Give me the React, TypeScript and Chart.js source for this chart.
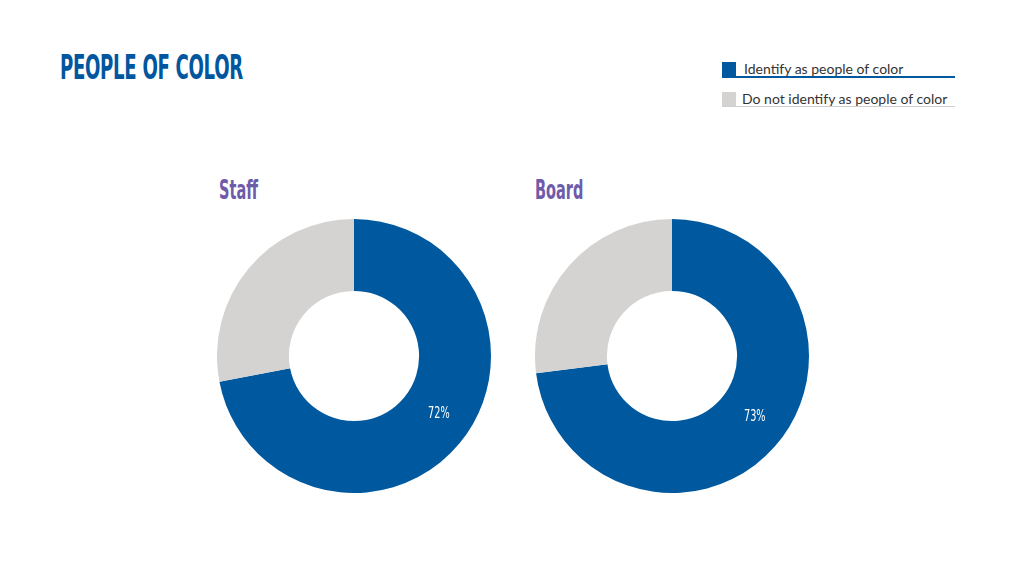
import React, { useEffect, useRef } from "react";
import { Chart, registerables } from "chart.js";

Chart.register(...registerables);

const categories = ["Identify as people of color", "Do not identify as people of color"];
const groups = ["Staff", "Board"];
const staffValues = [72, 28];
const boardValues = [73, 27];
const colors = ["#00599F", "#D4D3D2"];

const labelPlugin = {
  id: "sliceLabel",
  afterDatasetsDraw(chart: any) {
    const meta = chart.getDatasetMeta(0);
    const arc = meta.data[0];
    if (!arc) return;
    const val = chart.data.datasets[0].data[0];
    const { x, y } = arc.tooltipPosition();
    const ctx = chart.ctx;
    ctx.save();
    ctx.font = "15px 'Liberation Sans Narrow', 'DejaVu Sans Condensed', sans-serif";
    ctx.fillStyle = "#FFFFFF";
    ctx.textAlign = "center";
    ctx.textBaseline = "middle";
    ctx.translate(x + 7, y - 6);
    ctx.scale(0.72, 1);
    ctx.fillText(val + "%", 0, 0);
    ctx.restore();
  },
};

function Donut({ values, left }: { values: number[]; left: number }) {
  const ref = useRef<HTMLCanvasElement>(null);
  useEffect(() => {
    if (!ref.current) return;
    const chart = new Chart(ref.current, {
      type: "doughnut",
      data: {
        labels: categories,
        datasets: [{ data: values, backgroundColor: colors, borderWidth: 0 }],
      },
      options: {
        animation: false,
        responsive: false,
        cutout: "47.5%",
        layout: { padding: 0 },
        plugins: { legend: { display: false }, tooltip: { enabled: false } },
      },
      plugins: [labelPlugin],
    });
    return () => chart.destroy();
  }, []);
  return (
    <canvas
      ref={ref}
      width={274}
      height={274}
      style={{ position: "absolute", left, top: 219, width: 274, height: 274 }}
    />
  );
}

const condensed = "'Liberation Sans Narrow', 'DejaVu Sans Condensed', 'Roboto', sans-serif";

export default function App() {
  return (
    <div style={{ position: "absolute", left: 0, top: 0, width: 1024, height: 563, background: "#fff", overflow: "hidden" }}>
      <div
        style={{
          position: "absolute",
          left: 60,
          top: 50,
          fontFamily: condensed,
          fontWeight: 700,
          fontSize: 33,
          lineHeight: "36px",
          color: "#0057A0",
          transform: "scaleX(0.61)",
          transformOrigin: "0 0",
          whiteSpace: "nowrap",
          letterSpacing: "-0.5px",
        }}
      >
        PEOPLE OF COLOR
      </div>

      {/* Legend */}
      <div style={{ position: "absolute", left: 722, top: 62, width: 14, height: 14, background: colors[0] }} />
      <div style={{ position: "absolute", left: 744, top: 60, fontFamily: "Lato, 'Open Sans', sans-serif", fontSize: 14, lineHeight: "18px", color: "#333", whiteSpace: "nowrap" }}>
        {categories[0]}
      </div>
      <div style={{ position: "absolute", left: 722, top: 76, width: 233, height: 2, background: colors[0] }} />

      <div style={{ position: "absolute", left: 722, top: 92, width: 14, height: 14, background: colors[1] }} />
      <div style={{ position: "absolute", left: 742, top: 90, fontFamily: "Lato, 'Open Sans', sans-serif", fontSize: 14, lineHeight: "18px", color: "#333", whiteSpace: "nowrap" }}>
        {categories[1]}
      </div>
      <div style={{ position: "absolute", left: 722, top: 106, width: 233, height: 1, background: "#CFCFCF" }} />

      {/* Group titles */}
      {[219, 535].map((x, i) => (
        <div
          key={i}
          style={{
            position: "absolute",
            left: x,
            top: 175,
            fontFamily: condensed,
            fontWeight: 700,
            fontSize: 26,
            lineHeight: "30px",
            color: "#6E5BAA",
            transform: "scaleX(0.62)",
            transformOrigin: "0 0",
            whiteSpace: "nowrap",
          }}
        >
          {groups[i]}
        </div>
      ))}

      <Donut values={staffValues} left={217} />
      <Donut values={boardValues} left={535} />
    </div>
  );
}
